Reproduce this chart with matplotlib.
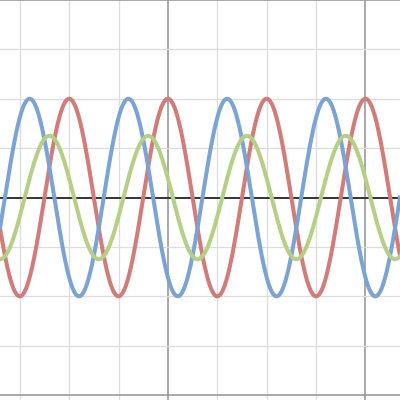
import matplotlib.pyplot as plt
import numpy as np

# waves: amplitude, phase shift (x units), colour
names = ['red', 'blue', 'green']
amplitudes = [2.0, 2.0, 1.25]
shifts = [0.0, -0.8, -0.4]
colors = ['#d27c7a', '#7ba3d3', '#b6cf87']

xmin, xmax = -3.4, 4.7
ymin, ymax = -4.1, 4.0

fig = plt.figure(figsize=(4, 4), dpi=100)
ax = fig.add_axes([0, 0, 1, 1])
ax.set_xlim(xmin, xmax)
ax.set_ylim(ymin, ymax)
ax.axis('off')

for gx in np.arange(-3, 5):
    major = gx % 4 == 0
    ax.axvline(gx, color='#999999' if major else '#dddddd', lw=1.2 if major else 0.9, zorder=0)
for gy in np.arange(-4, 5):
    major = gy % 4 == 0
    ax.axhline(gy, color='#999999' if major else '#dddddd', lw=1.2 if major else 0.9, zorder=0)
ax.axhline(0, color='#222222', lw=1.2, zorder=1)

x = np.linspace(xmin, xmax, 2000)
for a, s, c in zip(amplitudes, shifts, colors):
    ax.plot(x, a * np.cos(np.pi * (x - s)), color=c, lw=2.9, zorder=2)

fig.savefig('out.png', dpi=100)
